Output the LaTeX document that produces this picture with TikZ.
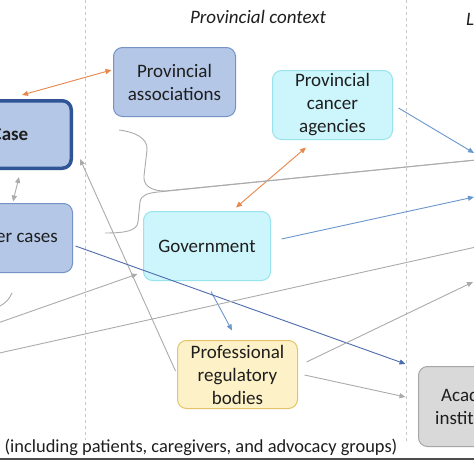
\documentclass[tikz,border=0pt]{standalone}
\usepackage{fontspec}
\setmainfont{Carlito}
\usetikzlibrary{arrows.meta}
\definecolor{bluefill}{HTML}{B4C7E7}
\definecolor{bluedraw}{HTML}{7593C6}
\definecolor{casedraw}{HTML}{2F5597}
\definecolor{cyanfill}{HTML}{CCF6FB}
\definecolor{cyandraw}{HTML}{98E3EC}
\definecolor{yelfill}{HTML}{FDF1C7}
\definecolor{yeldraw}{HTML}{E3C46A}
\definecolor{grayfill}{HTML}{D9D9D9}
\definecolor{graydraw}{HTML}{A6A6A6}
\definecolor{conngray}{HTML}{ABABAB}
\definecolor{connorange}{HTML}{E8874A}
\definecolor{connblue}{HTML}{6A97CC}
\definecolor{conndblue}{HTML}{4C6CAF}
\definecolor{txt}{HTML}{1E1E1E}
\begin{document}
\begin{tikzpicture}[x=1pt,y=-1pt,
  box/.style={rectangle, rounded corners=9pt, inner sep=0pt, align=center,
    font=\fontsize{19}{23}\selectfont, text=txt, line width=1pt},
  lbl/.style={inner sep=0pt, font=\fontsize{19}{23}\selectfont, text=txt},
  tip/.style={-{Triangle[length=6pt,width=5pt]}},
  dtip/.style={{Triangle[length=6pt,width=5pt]}-{Triangle[length=6pt,width=5pt]}},
  grayc/.style={draw=conngray, line width=0.9pt},
  orangec/.style={draw=connorange, line width=0.9pt, dtip},
  bluec/.style={draw=connblue, line width=0.9pt, tip},
  sep/.style={draw=black!22, line width=0.8pt, dash pattern=on 3pt off 3pt}]
\useasboundingbox (0,0) rectangle (474,474);
\clip (0,0) rectangle (474,474);
\fill[white] (0,0) rectangle (474,474);

% separators
\draw[sep] (85,0) -- (85,440);
\draw[sep] (406,0) -- (406,442);
\draw[draw=black!70, line width=1.3pt] (-5,459) -- (480,459);

% titles
\node[lbl, font=\fontsize{19}{23}\selectfont\itshape] (ttl) at (258,16.5) {Provincial context};
\node[lbl, anchor=west, font=\fontsize{19}{23}\selectfont\itshape] (ttl2) at (466,19.5) {L};
\node[lbl, font=\fontsize{18.4}{22}\selectfont] (foot) at (201,447) {(including patients, caregivers, and advocacy groups)};

% boxes
\node[box, fill=bluefill, draw=bluedraw, minimum width=122pt, minimum height=69pt] (pa) at (174.5,82) {Provincial\\associations};
\node[box, fill=bluefill, draw=casedraw, line width=3.5pt, minimum width=122.5pt, minimum height=67.5pt, font=\fontsize{19}{23}\selectfont\bfseries] (case) at (10,134.5) {Case};
\node[box, fill=bluefill, draw=bluedraw, minimum width=91pt, minimum height=69pt] (oc) at (27,238) {er cases};
\node[box, fill=cyanfill, draw=cyandraw, minimum width=120pt, minimum height=69pt] (pca) at (332.5,105) {Provincial\\cancer\\agencies};
\node[box, fill=cyanfill, draw=cyandraw, minimum width=127pt, minimum height=69pt] (gov) at (207,246) {Government};
\node[box, fill=yelfill, draw=yeldraw, minimum width=120pt, minimum height=68pt] (prof) at (237.5,374.5) {Professional\\regulatory\\bodies};
\node[box, fill=grayfill, draw=graydraw, minimum width=121pt, minimum height=80pt] (acad) at (479,406.5) {};
\node[lbl, anchor=west] (acad1) at (441,395) {Acad};
\node[lbl, anchor=west] (acad2) at (435,418) {instit};

% free ends
\coordinate (r0) at (476,160);
\coordinate (r1) at (474,153);
\coordinate (r2) at (474,197);
\coordinate (r3) at (473,282);
\coordinate (r4) at (476,247);
\coordinate (l1) at (-5,324);
\coordinate (l2) at (-5,354);
\coordinate (ca) at (119,130);
\coordinate (cb) at (105,233);
\coordinate (sa) at (0,306);
\coordinate (sb) at (12,293);

% connectors
\draw[orangec] ([xshift=-1.5pt,yshift=12pt]pa.west) -- ([xshift=12pt,yshift=4pt]case.north);
\draw[orangec] ([xshift=29pt,yshift=3.5pt]gov.north) -- ([xshift=-26.5pt,yshift=-7.5pt]pca.south);
\draw[grayc, dtip] ([xshift=9pt,yshift=-7pt]case.south) -- ([xshift=-14pt,yshift=1.5pt]oc.north);
\draw[grayc, tip] ([xshift=-1.5pt,yshift=3.5pt]prof.west) -- ([xshift=7pt,yshift=-24.5pt]case.east);
\draw[grayc] (ca) .. controls (135,132) and (148,138) .. (147,150) -- (144,176)
   .. controls (143,186) and (152,191) .. (165,191) -- (r0);
\draw[grayc] (cb) .. controls (125,233) and (137,231) .. (138,222) -- (140,202)
   .. controls (141,195) and (148,193) .. (158,192) -- (r0);
\draw[bluec] ([xshift=5.5pt,yshift=-3pt]pca.east) -- (r1);
\draw[bluec] ([xshift=10.5pt,yshift=7pt]gov.east) -- (r2);
\draw[bluec] ([xshift=4pt,yshift=-10.5pt]gov.south) -- ([xshift=-5.5pt,yshift=9.5pt]prof.north);
\draw[draw=conndblue, line width=0.9pt, tip] ([xshift=2.5pt,yshift=-8pt]oc.east) -- ([xshift=-12.5pt,yshift=42.5pt]acad.west);
\draw[grayc, tip] (l1) -- ([xshift=-5.5pt,yshift=-28pt]gov.west);
\draw[grayc] (l2) -- (r4);
\draw[grayc] (sa) .. controls (6,303) and (10,298) .. (sb);
\draw[grayc, tip] ([xshift=8.5pt,yshift=12.5pt]prof.east) -- (r3);
\draw[grayc, tip] ([xshift=6.5pt,yshift=-0.5pt]prof.east) -- ([xshift=-12.5pt,yshift=9.5pt]acad.west);
\end{tikzpicture}
\end{document}
